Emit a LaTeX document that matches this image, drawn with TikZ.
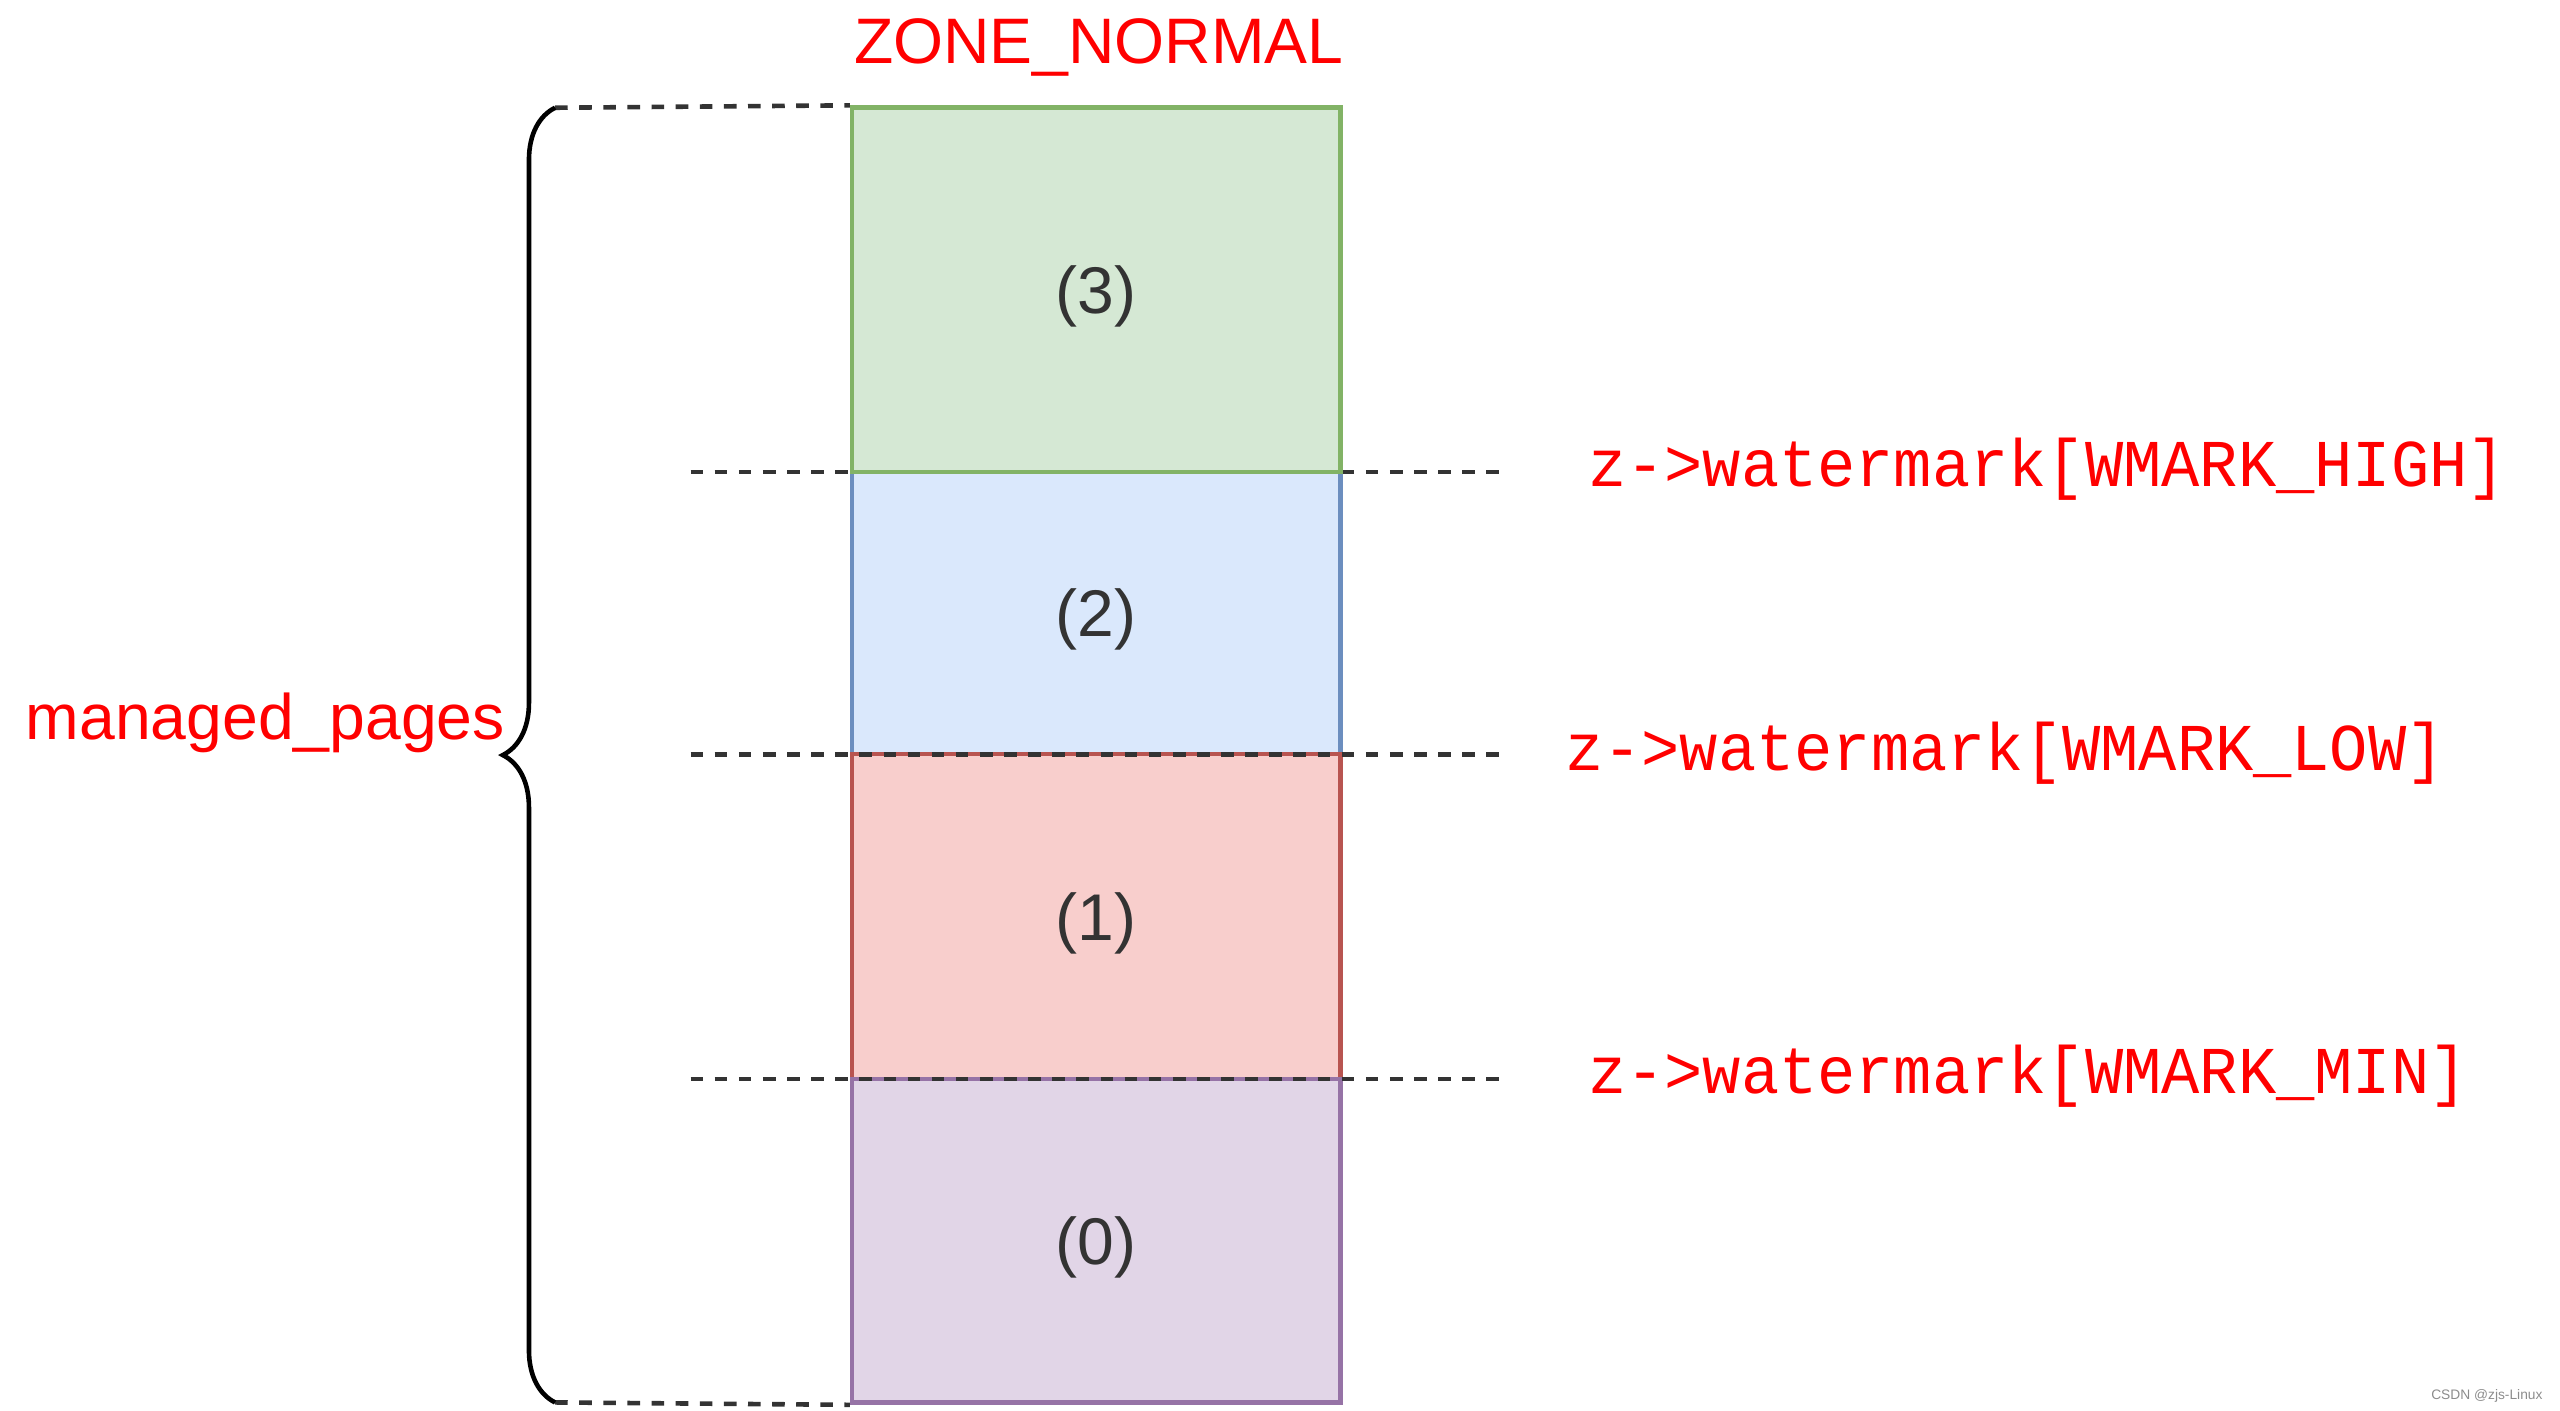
\documentclass[tikz,border=0pt]{standalone}
\usepackage{fontspec}
\setmainfont{Liberation Sans}
\newfontfamily\wmfont{Liberation Mono}
\usepackage{tikz}
\usetikzlibrary{decorations.pathreplacing}
\definecolor{lblred}{HTML}{FF0000}
\definecolor{txtgray}{HTML}{333333}
\definecolor{greenfill}{HTML}{D5E8D4}
\definecolor{greenline}{HTML}{82B366}
\definecolor{bluefill}{HTML}{DAE8FC}
\definecolor{blueline}{HTML}{6C8EBF}
\definecolor{redfill}{HTML}{F8CECC}
\definecolor{redline}{HTML}{B85450}
\definecolor{purplefill}{HTML}{E1D5E7}
\definecolor{purpleline}{HTML}{9673A6}

\begin{document}
\begin{tikzpicture}[x=0.01cm, y=-0.01cm,
    part/.style={draw, line width=0.8pt, minimum width=2.99cm, inner sep=0pt,
      text depth=0pt, text=txtgray, font=\fontsize{11.5}{13}\selectfont},
    redlbl/.style={text=lblred, inner sep=0pt, font=\fontsize{11.2}{13}\selectfont},
    wmlbl/.style={text=lblred, inner sep=0pt, anchor=base west,
      font=\wmfont\fontsize{11.1}{13}\selectfont, yscale=1.05},
    level/.style={draw=black!80, line width=0.8pt, dash pattern=on 2.2pt off 2pt}]
  \useasboundingbox (0,0) rectangle (1568,864);

  % where the dashed lines end
  \coordinate (highl) at (423,289);
  \coordinate (highr) at (920,289);
  \coordinate (lowl) at (423,462);
  \coordinate (lowr) at (920,462);
  \coordinate (minl) at (423,661);
  \coordinate (minr) at (920,661);
  \coordinate (bt) at (340,66);
  \coordinate (bb) at (340,859);

  \draw[level] (highl) -- (highr);

  % the four parts of the zone
  \node[part, fill=bluefill, draw=blueline, minimum height=1.73cm] (two) at (671.5,375.5) {(2)};
  \node[part, fill=greenfill, draw=greenline, minimum height=2.23cm] (three) at (671.5,177.5) {(3)};
  \node[part, fill=redfill, draw=redline, minimum height=1.99cm] (one) at (671.5,561.5) {(1)};
  \node[part, fill=purplefill, draw=purpleline, minimum height=1.98cm] (zero) at (671.5,760) {(0)};

  \draw[level] (lowl) -- (lowr);
  \draw[level] (minl) -- (minr);
  \draw[level] (bt) -- (three.north west);
  \draw[level] (bb) -- (zero.south west);
  \draw[line width=0.8pt, decorate, decoration={brace, amplitude=0.32cm}] (bb) -- (bt);

  \node[redlbl, anchor=base] (zone) at (673,39) {ZONE\_NORMAL};
  \node[redlbl, anchor=base east] (managed) at (310,453) {managed\_pages};
  \node[wmlbl] (high) at (972,298) {z->watermark[WMARK\_HIGH]};
  \node[wmlbl] (low) at (958,472) {z->watermark[WMARK\_LOW]};
  \node[wmlbl] (min) at (972,670) {z->watermark[WMARK\_MIN]};
  \node[text=black!45, inner sep=0pt, anchor=base east, font=\fontsize{2.4}{3}\selectfont] (csdn) at (1558,857) {CSDN @zjs-Linux};
\end{tikzpicture}
\end{document}
